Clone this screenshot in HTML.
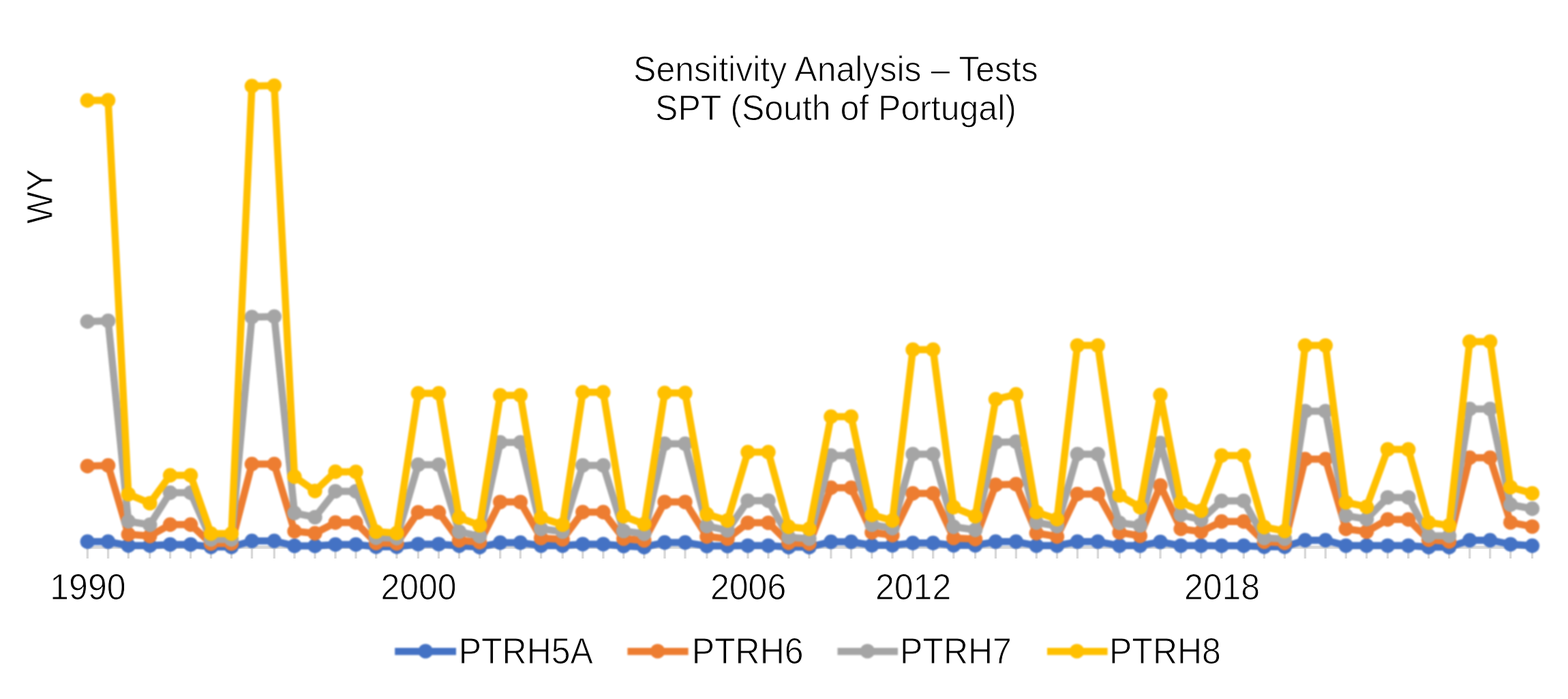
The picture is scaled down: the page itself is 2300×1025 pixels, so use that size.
<!DOCTYPE html>
<html lang="en">
<head>
<meta charset="utf-8">
<title>Sensitivity Analysis – Tests SPT (South of Portugal)</title>
<style>
html,body{margin:0;padding:0;background:#fff;}
body{width:2300px;height:1025px;overflow:hidden;}
svg{display:block;}
svg text{font-family:"Liberation Sans",Arial,Helvetica,sans-serif;fill:#000;stroke:#fff;stroke-width:0.9px;paint-order:fill stroke;}
</style>
</head>
<body>
<svg width="2300" height="1025" viewBox="0 0 2300 1025">
<rect width="2300" height="1025" fill="#fff"/>
<g stroke="#D9D9D9" stroke-width="3.4" style="filter:blur(0.4px)">
<line x1="126.60000000000001" y1="802.5" x2="2249.2" y2="802.5" stroke-width="4.4"/>
<line x1="128.3" y1="802.5" x2="128.3" y2="819"/>
<line x1="158.6" y1="802.5" x2="158.6" y2="819"/>
<line x1="188.3" y1="802.5" x2="188.3" y2="819"/>
<line x1="219.8" y1="802.5" x2="219.8" y2="819"/>
<line x1="249.6" y1="802.5" x2="249.6" y2="819"/>
<line x1="279.6" y1="802.5" x2="279.6" y2="819"/>
<line x1="309.5" y1="802.5" x2="309.5" y2="819"/>
<line x1="339.5" y1="802.5" x2="339.5" y2="819"/>
<line x1="369.5" y1="802.5" x2="369.5" y2="819"/>
<line x1="402.3" y1="802.5" x2="402.3" y2="819"/>
<line x1="432.0" y1="802.5" x2="432.0" y2="819"/>
<line x1="462.0" y1="802.5" x2="462.0" y2="819"/>
<line x1="492.0" y1="802.5" x2="492.0" y2="819"/>
<line x1="522.0" y1="802.5" x2="522.0" y2="819"/>
<line x1="551.7" y1="802.5" x2="551.7" y2="819"/>
<line x1="581.9" y1="802.5" x2="581.9" y2="819"/>
<line x1="613.4" y1="802.5" x2="613.4" y2="819"/>
<line x1="643.5" y1="802.5" x2="643.5" y2="819"/>
<line x1="673.5" y1="802.5" x2="673.5" y2="819"/>
<line x1="703.6" y1="802.5" x2="703.6" y2="819"/>
<line x1="733.7" y1="802.5" x2="733.7" y2="819"/>
<line x1="763.3" y1="802.5" x2="763.3" y2="819"/>
<line x1="793.6" y1="802.5" x2="793.6" y2="819"/>
<line x1="825.2" y1="802.5" x2="825.2" y2="819"/>
<line x1="854.8" y1="802.5" x2="854.8" y2="819"/>
<line x1="884.9" y1="802.5" x2="884.9" y2="819"/>
<line x1="914.7" y1="802.5" x2="914.7" y2="819"/>
<line x1="944.9" y1="802.5" x2="944.9" y2="819"/>
<line x1="975.0" y1="802.5" x2="975.0" y2="819"/>
<line x1="1005.0" y1="802.5" x2="1005.0" y2="819"/>
<line x1="1036.9" y1="802.5" x2="1036.9" y2="819"/>
<line x1="1067.1" y1="802.5" x2="1067.1" y2="819"/>
<line x1="1097.0" y1="802.5" x2="1097.0" y2="819"/>
<line x1="1127.0" y1="802.5" x2="1127.0" y2="819"/>
<line x1="1156.8" y1="802.5" x2="1156.8" y2="819"/>
<line x1="1187.0" y1="802.5" x2="1187.0" y2="819"/>
<line x1="1218.9" y1="802.5" x2="1218.9" y2="819"/>
<line x1="1248.5" y1="802.5" x2="1248.5" y2="819"/>
<line x1="1278.9" y1="802.5" x2="1278.9" y2="819"/>
<line x1="1309.0" y1="802.5" x2="1309.0" y2="819"/>
<line x1="1339.0" y1="802.5" x2="1339.0" y2="819"/>
<line x1="1368.7" y1="802.5" x2="1368.7" y2="819"/>
<line x1="1398.8" y1="802.5" x2="1398.8" y2="819"/>
<line x1="1430.6" y1="802.5" x2="1430.6" y2="819"/>
<line x1="1460.5" y1="802.5" x2="1460.5" y2="819"/>
<line x1="1490.4" y1="802.5" x2="1490.4" y2="819"/>
<line x1="1520.3" y1="802.5" x2="1520.3" y2="819"/>
<line x1="1550.5" y1="802.5" x2="1550.5" y2="819"/>
<line x1="1580.4" y1="802.5" x2="1580.4" y2="819"/>
<line x1="1610.4" y1="802.5" x2="1610.4" y2="819"/>
<line x1="1642.1" y1="802.5" x2="1642.1" y2="819"/>
<line x1="1672.3" y1="802.5" x2="1672.3" y2="819"/>
<line x1="1702.0" y1="802.5" x2="1702.0" y2="819"/>
<line x1="1732.1" y1="802.5" x2="1732.1" y2="819"/>
<line x1="1761.8" y1="802.5" x2="1761.8" y2="819"/>
<line x1="1791.9" y1="802.5" x2="1791.9" y2="819"/>
<line x1="1824.3" y1="802.5" x2="1824.3" y2="819"/>
<line x1="1854.4" y1="802.5" x2="1854.4" y2="819"/>
<line x1="1884.4" y1="802.5" x2="1884.4" y2="819"/>
<line x1="1914.4" y1="802.5" x2="1914.4" y2="819"/>
<line x1="1944.3" y1="802.5" x2="1944.3" y2="819"/>
<line x1="1974.3" y1="802.5" x2="1974.3" y2="819"/>
<line x1="2004.6" y1="802.5" x2="2004.6" y2="819"/>
<line x1="2035.5" y1="802.5" x2="2035.5" y2="819"/>
<line x1="2065.8" y1="802.5" x2="2065.8" y2="819"/>
<line x1="2095.6" y1="802.5" x2="2095.6" y2="819"/>
<line x1="2125.7" y1="802.5" x2="2125.7" y2="819"/>
<line x1="2155.8" y1="802.5" x2="2155.8" y2="819"/>
<line x1="2185.7" y1="802.5" x2="2185.7" y2="819"/>
<line x1="2215.7" y1="802.5" x2="2215.7" y2="819"/>
<line x1="2247.5" y1="802.5" x2="2247.5" y2="819"/>
</g>
<g style="filter:blur(1.0px)">
<polyline points="128.3,794.3 158.6,794.3 188.3,800.0 219.8,800.0 249.6,798.4 279.6,798.4 309.5,802.0 339.5,802.0 369.5,793.3 402.3,793.3 432.0,800.4 462.0,800.4 492.0,798.4 522.0,798.4 551.7,801.8 581.9,801.8 613.4,797.9 643.5,797.9 673.5,800.3 703.6,802.2 733.7,795.8 763.3,795.8 793.6,800.1 825.2,800.1 854.8,797.9 884.9,797.9 914.7,800.6 944.9,802.2 975.0,795.5 1005.0,795.5 1036.9,800.6 1067.1,800.6 1097.0,800.1 1127.0,800.1 1156.8,802.2 1187.0,802.2 1218.9,794.5 1248.5,794.5 1278.9,799.6 1309.0,799.6 1339.0,796.3 1368.7,796.3 1398.8,799.6 1430.6,799.6 1460.5,794.3 1490.4,794.3 1520.3,800.1 1550.5,800.1 1580.4,794.3 1610.4,794.3 1642.1,800.1 1672.3,800.1 1702.0,794.6 1732.1,800.1 1761.8,800.1 1791.9,800.3 1824.3,800.3 1854.4,801.7 1884.4,801.7 1914.4,792.2 1944.3,792.2 1974.3,800.1 2004.6,800.1 2035.5,800.1 2065.8,800.1 2095.6,802.2 2125.7,802.2 2155.8,792.2 2185.7,792.2 2215.7,798.1 2247.5,800.3" fill="none" stroke="#4472C4" stroke-width="10.5" stroke-linejoin="round" stroke-linecap="round"/>
<circle cx="128.3" cy="794.3" r="10.7" fill="#4472C4"/><circle cx="158.6" cy="794.3" r="10.7" fill="#4472C4"/><circle cx="188.3" cy="800.0" r="10.7" fill="#4472C4"/><circle cx="219.8" cy="800.0" r="10.7" fill="#4472C4"/><circle cx="249.6" cy="798.4" r="10.7" fill="#4472C4"/><circle cx="279.6" cy="798.4" r="10.7" fill="#4472C4"/><circle cx="309.5" cy="802.0" r="10.7" fill="#4472C4"/><circle cx="339.5" cy="802.0" r="10.7" fill="#4472C4"/><circle cx="369.5" cy="793.3" r="10.7" fill="#4472C4"/><circle cx="402.3" cy="793.3" r="10.7" fill="#4472C4"/><circle cx="432.0" cy="800.4" r="10.7" fill="#4472C4"/><circle cx="462.0" cy="800.4" r="10.7" fill="#4472C4"/><circle cx="492.0" cy="798.4" r="10.7" fill="#4472C4"/><circle cx="522.0" cy="798.4" r="10.7" fill="#4472C4"/><circle cx="551.7" cy="801.8" r="10.7" fill="#4472C4"/><circle cx="581.9" cy="801.8" r="10.7" fill="#4472C4"/><circle cx="613.4" cy="797.9" r="10.7" fill="#4472C4"/><circle cx="643.5" cy="797.9" r="10.7" fill="#4472C4"/><circle cx="673.5" cy="800.3" r="10.7" fill="#4472C4"/><circle cx="703.6" cy="802.2" r="10.7" fill="#4472C4"/><circle cx="733.7" cy="795.8" r="10.7" fill="#4472C4"/><circle cx="763.3" cy="795.8" r="10.7" fill="#4472C4"/><circle cx="793.6" cy="800.1" r="10.7" fill="#4472C4"/><circle cx="825.2" cy="800.1" r="10.7" fill="#4472C4"/><circle cx="854.8" cy="797.9" r="10.7" fill="#4472C4"/><circle cx="884.9" cy="797.9" r="10.7" fill="#4472C4"/><circle cx="914.7" cy="800.6" r="10.7" fill="#4472C4"/><circle cx="944.9" cy="802.2" r="10.7" fill="#4472C4"/><circle cx="975.0" cy="795.5" r="10.7" fill="#4472C4"/><circle cx="1005.0" cy="795.5" r="10.7" fill="#4472C4"/><circle cx="1036.9" cy="800.6" r="10.7" fill="#4472C4"/><circle cx="1067.1" cy="800.6" r="10.7" fill="#4472C4"/><circle cx="1097.0" cy="800.1" r="10.7" fill="#4472C4"/><circle cx="1127.0" cy="800.1" r="10.7" fill="#4472C4"/><circle cx="1156.8" cy="802.2" r="10.7" fill="#4472C4"/><circle cx="1187.0" cy="802.2" r="10.7" fill="#4472C4"/><circle cx="1218.9" cy="794.5" r="10.7" fill="#4472C4"/><circle cx="1248.5" cy="794.5" r="10.7" fill="#4472C4"/><circle cx="1278.9" cy="799.6" r="10.7" fill="#4472C4"/><circle cx="1309.0" cy="799.6" r="10.7" fill="#4472C4"/><circle cx="1339.0" cy="796.3" r="10.7" fill="#4472C4"/><circle cx="1368.7" cy="796.3" r="10.7" fill="#4472C4"/><circle cx="1398.8" cy="799.6" r="10.7" fill="#4472C4"/><circle cx="1430.6" cy="799.6" r="10.7" fill="#4472C4"/><circle cx="1460.5" cy="794.3" r="10.7" fill="#4472C4"/><circle cx="1490.4" cy="794.3" r="10.7" fill="#4472C4"/><circle cx="1520.3" cy="800.1" r="10.7" fill="#4472C4"/><circle cx="1550.5" cy="800.1" r="10.7" fill="#4472C4"/><circle cx="1580.4" cy="794.3" r="10.7" fill="#4472C4"/><circle cx="1610.4" cy="794.3" r="10.7" fill="#4472C4"/><circle cx="1642.1" cy="800.1" r="10.7" fill="#4472C4"/><circle cx="1672.3" cy="800.1" r="10.7" fill="#4472C4"/><circle cx="1702.0" cy="794.6" r="10.7" fill="#4472C4"/><circle cx="1732.1" cy="800.1" r="10.7" fill="#4472C4"/><circle cx="1761.8" cy="800.1" r="10.7" fill="#4472C4"/><circle cx="1791.9" cy="800.3" r="10.7" fill="#4472C4"/><circle cx="1824.3" cy="800.3" r="10.7" fill="#4472C4"/><circle cx="1854.4" cy="801.7" r="10.7" fill="#4472C4"/><circle cx="1884.4" cy="801.7" r="10.7" fill="#4472C4"/><circle cx="1914.4" cy="792.2" r="10.7" fill="#4472C4"/><circle cx="1944.3" cy="792.2" r="10.7" fill="#4472C4"/><circle cx="1974.3" cy="800.1" r="10.7" fill="#4472C4"/><circle cx="2004.6" cy="800.1" r="10.7" fill="#4472C4"/><circle cx="2035.5" cy="800.1" r="10.7" fill="#4472C4"/><circle cx="2065.8" cy="800.1" r="10.7" fill="#4472C4"/><circle cx="2095.6" cy="802.2" r="10.7" fill="#4472C4"/><circle cx="2125.7" cy="802.2" r="10.7" fill="#4472C4"/><circle cx="2155.8" cy="792.2" r="10.7" fill="#4472C4"/><circle cx="2185.7" cy="792.2" r="10.7" fill="#4472C4"/><circle cx="2215.7" cy="798.1" r="10.7" fill="#4472C4"/><circle cx="2247.5" cy="800.3" r="10.7" fill="#4472C4"/>

<polyline points="128.3,683.5 158.6,682.5 188.3,783.5 219.8,786.0 249.6,769.2 279.6,769.2 309.5,797.0 339.5,797.0 369.5,680.5 402.3,680.5 432.0,779.0 462.0,782.0 492.0,766.3 522.0,766.3 551.7,796.3 581.9,796.8 613.4,751.2 643.5,751.2 673.5,792.5 703.6,795.0 733.7,736.1 763.3,736.1 793.6,788.9 825.2,790.9 854.8,751.0 884.9,751.0 914.7,789.9 944.9,792.4 975.0,736.1 1005.0,736.1 1036.9,786.8 1067.1,789.9 1097.0,766.6 1127.0,766.6 1156.8,796.0 1187.0,797.0 1218.9,715.3 1248.5,715.3 1278.9,780.7 1309.0,784.8 1339.0,723.5 1368.7,723.5 1398.8,788.9 1430.6,790.5 1460.5,711.0 1490.4,710.0 1520.3,781.7 1550.5,786.8 1580.4,724.5 1610.4,724.5 1642.1,780.7 1672.3,785.8 1702.0,712.0 1732.1,775.5 1761.8,779.6 1791.9,764.8 1824.3,764.8 1854.4,794.5 1884.4,796.0 1914.4,673.3 1944.3,673.3 1974.3,775.5 2004.6,779.6 2035.5,761.7 2065.8,761.7 2095.6,791.5 2125.7,794.0 2155.8,671.3 2185.7,671.3 2215.7,766.1 2247.5,772.1" fill="none" stroke="#ED7D31" stroke-width="10.5" stroke-linejoin="round" stroke-linecap="round"/>
<circle cx="128.3" cy="683.5" r="10.7" fill="#ED7D31"/><circle cx="158.6" cy="682.5" r="10.7" fill="#ED7D31"/><circle cx="188.3" cy="783.5" r="10.7" fill="#ED7D31"/><circle cx="219.8" cy="786.0" r="10.7" fill="#ED7D31"/><circle cx="249.6" cy="769.2" r="10.7" fill="#ED7D31"/><circle cx="279.6" cy="769.2" r="10.7" fill="#ED7D31"/><circle cx="309.5" cy="797.0" r="10.7" fill="#ED7D31"/><circle cx="339.5" cy="797.0" r="10.7" fill="#ED7D31"/><circle cx="369.5" cy="680.5" r="10.7" fill="#ED7D31"/><circle cx="402.3" cy="680.5" r="10.7" fill="#ED7D31"/><circle cx="432.0" cy="779.0" r="10.7" fill="#ED7D31"/><circle cx="462.0" cy="782.0" r="10.7" fill="#ED7D31"/><circle cx="492.0" cy="766.3" r="10.7" fill="#ED7D31"/><circle cx="522.0" cy="766.3" r="10.7" fill="#ED7D31"/><circle cx="551.7" cy="796.3" r="10.7" fill="#ED7D31"/><circle cx="581.9" cy="796.8" r="10.7" fill="#ED7D31"/><circle cx="613.4" cy="751.2" r="10.7" fill="#ED7D31"/><circle cx="643.5" cy="751.2" r="10.7" fill="#ED7D31"/><circle cx="673.5" cy="792.5" r="10.7" fill="#ED7D31"/><circle cx="703.6" cy="795.0" r="10.7" fill="#ED7D31"/><circle cx="733.7" cy="736.1" r="10.7" fill="#ED7D31"/><circle cx="763.3" cy="736.1" r="10.7" fill="#ED7D31"/><circle cx="793.6" cy="788.9" r="10.7" fill="#ED7D31"/><circle cx="825.2" cy="790.9" r="10.7" fill="#ED7D31"/><circle cx="854.8" cy="751.0" r="10.7" fill="#ED7D31"/><circle cx="884.9" cy="751.0" r="10.7" fill="#ED7D31"/><circle cx="914.7" cy="789.9" r="10.7" fill="#ED7D31"/><circle cx="944.9" cy="792.4" r="10.7" fill="#ED7D31"/><circle cx="975.0" cy="736.1" r="10.7" fill="#ED7D31"/><circle cx="1005.0" cy="736.1" r="10.7" fill="#ED7D31"/><circle cx="1036.9" cy="786.8" r="10.7" fill="#ED7D31"/><circle cx="1067.1" cy="789.9" r="10.7" fill="#ED7D31"/><circle cx="1097.0" cy="766.6" r="10.7" fill="#ED7D31"/><circle cx="1127.0" cy="766.6" r="10.7" fill="#ED7D31"/><circle cx="1156.8" cy="796.0" r="10.7" fill="#ED7D31"/><circle cx="1187.0" cy="797.0" r="10.7" fill="#ED7D31"/><circle cx="1218.9" cy="715.3" r="10.7" fill="#ED7D31"/><circle cx="1248.5" cy="715.3" r="10.7" fill="#ED7D31"/><circle cx="1278.9" cy="780.7" r="10.7" fill="#ED7D31"/><circle cx="1309.0" cy="784.8" r="10.7" fill="#ED7D31"/><circle cx="1339.0" cy="723.5" r="10.7" fill="#ED7D31"/><circle cx="1368.7" cy="723.5" r="10.7" fill="#ED7D31"/><circle cx="1398.8" cy="788.9" r="10.7" fill="#ED7D31"/><circle cx="1430.6" cy="790.5" r="10.7" fill="#ED7D31"/><circle cx="1460.5" cy="711.0" r="10.7" fill="#ED7D31"/><circle cx="1490.4" cy="710.0" r="10.7" fill="#ED7D31"/><circle cx="1520.3" cy="781.7" r="10.7" fill="#ED7D31"/><circle cx="1550.5" cy="786.8" r="10.7" fill="#ED7D31"/><circle cx="1580.4" cy="724.5" r="10.7" fill="#ED7D31"/><circle cx="1610.4" cy="724.5" r="10.7" fill="#ED7D31"/><circle cx="1642.1" cy="780.7" r="10.7" fill="#ED7D31"/><circle cx="1672.3" cy="785.8" r="10.7" fill="#ED7D31"/><circle cx="1702.0" cy="712.0" r="10.7" fill="#ED7D31"/><circle cx="1732.1" cy="775.5" r="10.7" fill="#ED7D31"/><circle cx="1761.8" cy="779.6" r="10.7" fill="#ED7D31"/><circle cx="1791.9" cy="764.8" r="10.7" fill="#ED7D31"/><circle cx="1824.3" cy="764.8" r="10.7" fill="#ED7D31"/><circle cx="1854.4" cy="794.5" r="10.7" fill="#ED7D31"/><circle cx="1884.4" cy="796.0" r="10.7" fill="#ED7D31"/><circle cx="1914.4" cy="673.3" r="10.7" fill="#ED7D31"/><circle cx="1944.3" cy="673.3" r="10.7" fill="#ED7D31"/><circle cx="1974.3" cy="775.5" r="10.7" fill="#ED7D31"/><circle cx="2004.6" cy="779.6" r="10.7" fill="#ED7D31"/><circle cx="2035.5" cy="761.7" r="10.7" fill="#ED7D31"/><circle cx="2065.8" cy="761.7" r="10.7" fill="#ED7D31"/><circle cx="2095.6" cy="791.5" r="10.7" fill="#ED7D31"/><circle cx="2125.7" cy="794.0" r="10.7" fill="#ED7D31"/><circle cx="2155.8" cy="671.3" r="10.7" fill="#ED7D31"/><circle cx="2185.7" cy="671.3" r="10.7" fill="#ED7D31"/><circle cx="2215.7" cy="766.1" r="10.7" fill="#ED7D31"/><circle cx="2247.5" cy="772.1" r="10.7" fill="#ED7D31"/>

<polyline points="128.3,471.5 158.6,470.5 188.3,764.5 219.8,769.5 249.6,722.5 279.6,722.5 309.5,791.0 339.5,791.0 369.5,465.0 402.3,464.3 432.0,752.3 462.0,758.4 492.0,720.4 522.0,720.4 551.7,788.5 581.9,789.0 613.4,681.5 643.5,681.5 673.5,779.6 703.6,786.3 733.7,648.7 763.3,648.7 793.6,775.5 825.2,779.6 854.8,682.5 884.9,682.5 914.7,778.6 944.9,782.7 975.0,650.7 1005.0,650.7 1036.9,771.4 1067.1,777.6 1097.0,734.3 1127.0,734.3 1156.8,787.8 1187.0,789.9 1218.9,668.0 1248.5,668.0 1278.9,769.4 1309.0,774.5 1339.0,666.0 1368.7,666.0 1398.8,772.5 1430.6,777.0 1460.5,648.7 1490.4,647.7 1520.3,766.3 1550.5,771.4 1580.4,666.0 1610.4,666.0 1642.1,766.8 1672.3,770.4 1702.0,649.7 1732.1,755.0 1761.8,762.2 1791.9,734.5 1824.3,734.5 1854.4,788.9 1884.4,789.9 1914.4,602.9 1944.3,602.9 1974.3,756.1 2004.6,761.2 2035.5,729.4 2065.8,729.4 2095.6,785.5 2125.7,785.8 2155.8,599.8 2185.7,599.8 2215.7,740.0 2247.5,746.0" fill="none" stroke="#A5A5A5" stroke-width="10.5" stroke-linejoin="round" stroke-linecap="round"/>
<circle cx="128.3" cy="471.5" r="10.7" fill="#A5A5A5"/><circle cx="158.6" cy="470.5" r="10.7" fill="#A5A5A5"/><circle cx="188.3" cy="764.5" r="10.7" fill="#A5A5A5"/><circle cx="219.8" cy="769.5" r="10.7" fill="#A5A5A5"/><circle cx="249.6" cy="722.5" r="10.7" fill="#A5A5A5"/><circle cx="279.6" cy="722.5" r="10.7" fill="#A5A5A5"/><circle cx="309.5" cy="791.0" r="10.7" fill="#A5A5A5"/><circle cx="339.5" cy="791.0" r="10.7" fill="#A5A5A5"/><circle cx="369.5" cy="465.0" r="10.7" fill="#A5A5A5"/><circle cx="402.3" cy="464.3" r="10.7" fill="#A5A5A5"/><circle cx="432.0" cy="752.3" r="10.7" fill="#A5A5A5"/><circle cx="462.0" cy="758.4" r="10.7" fill="#A5A5A5"/><circle cx="492.0" cy="720.4" r="10.7" fill="#A5A5A5"/><circle cx="522.0" cy="720.4" r="10.7" fill="#A5A5A5"/><circle cx="551.7" cy="788.5" r="10.7" fill="#A5A5A5"/><circle cx="581.9" cy="789.0" r="10.7" fill="#A5A5A5"/><circle cx="613.4" cy="681.5" r="10.7" fill="#A5A5A5"/><circle cx="643.5" cy="681.5" r="10.7" fill="#A5A5A5"/><circle cx="673.5" cy="779.6" r="10.7" fill="#A5A5A5"/><circle cx="703.6" cy="786.3" r="10.7" fill="#A5A5A5"/><circle cx="733.7" cy="648.7" r="10.7" fill="#A5A5A5"/><circle cx="763.3" cy="648.7" r="10.7" fill="#A5A5A5"/><circle cx="793.6" cy="775.5" r="10.7" fill="#A5A5A5"/><circle cx="825.2" cy="779.6" r="10.7" fill="#A5A5A5"/><circle cx="854.8" cy="682.5" r="10.7" fill="#A5A5A5"/><circle cx="884.9" cy="682.5" r="10.7" fill="#A5A5A5"/><circle cx="914.7" cy="778.6" r="10.7" fill="#A5A5A5"/><circle cx="944.9" cy="782.7" r="10.7" fill="#A5A5A5"/><circle cx="975.0" cy="650.7" r="10.7" fill="#A5A5A5"/><circle cx="1005.0" cy="650.7" r="10.7" fill="#A5A5A5"/><circle cx="1036.9" cy="771.4" r="10.7" fill="#A5A5A5"/><circle cx="1067.1" cy="777.6" r="10.7" fill="#A5A5A5"/><circle cx="1097.0" cy="734.3" r="10.7" fill="#A5A5A5"/><circle cx="1127.0" cy="734.3" r="10.7" fill="#A5A5A5"/><circle cx="1156.8" cy="787.8" r="10.7" fill="#A5A5A5"/><circle cx="1187.0" cy="789.9" r="10.7" fill="#A5A5A5"/><circle cx="1218.9" cy="668.0" r="10.7" fill="#A5A5A5"/><circle cx="1248.5" cy="668.0" r="10.7" fill="#A5A5A5"/><circle cx="1278.9" cy="769.4" r="10.7" fill="#A5A5A5"/><circle cx="1309.0" cy="774.5" r="10.7" fill="#A5A5A5"/><circle cx="1339.0" cy="666.0" r="10.7" fill="#A5A5A5"/><circle cx="1368.7" cy="666.0" r="10.7" fill="#A5A5A5"/><circle cx="1398.8" cy="772.5" r="10.7" fill="#A5A5A5"/><circle cx="1430.6" cy="777.0" r="10.7" fill="#A5A5A5"/><circle cx="1460.5" cy="648.7" r="10.7" fill="#A5A5A5"/><circle cx="1490.4" cy="647.7" r="10.7" fill="#A5A5A5"/><circle cx="1520.3" cy="766.3" r="10.7" fill="#A5A5A5"/><circle cx="1550.5" cy="771.4" r="10.7" fill="#A5A5A5"/><circle cx="1580.4" cy="666.0" r="10.7" fill="#A5A5A5"/><circle cx="1610.4" cy="666.0" r="10.7" fill="#A5A5A5"/><circle cx="1642.1" cy="766.8" r="10.7" fill="#A5A5A5"/><circle cx="1672.3" cy="770.4" r="10.7" fill="#A5A5A5"/><circle cx="1702.0" cy="649.7" r="10.7" fill="#A5A5A5"/><circle cx="1732.1" cy="755.0" r="10.7" fill="#A5A5A5"/><circle cx="1761.8" cy="762.2" r="10.7" fill="#A5A5A5"/><circle cx="1791.9" cy="734.5" r="10.7" fill="#A5A5A5"/><circle cx="1824.3" cy="734.5" r="10.7" fill="#A5A5A5"/><circle cx="1854.4" cy="788.9" r="10.7" fill="#A5A5A5"/><circle cx="1884.4" cy="789.9" r="10.7" fill="#A5A5A5"/><circle cx="1914.4" cy="602.9" r="10.7" fill="#A5A5A5"/><circle cx="1944.3" cy="602.9" r="10.7" fill="#A5A5A5"/><circle cx="1974.3" cy="756.1" r="10.7" fill="#A5A5A5"/><circle cx="2004.6" cy="761.2" r="10.7" fill="#A5A5A5"/><circle cx="2035.5" cy="729.4" r="10.7" fill="#A5A5A5"/><circle cx="2065.8" cy="729.4" r="10.7" fill="#A5A5A5"/><circle cx="2095.6" cy="785.5" r="10.7" fill="#A5A5A5"/><circle cx="2125.7" cy="785.8" r="10.7" fill="#A5A5A5"/><circle cx="2155.8" cy="599.8" r="10.7" fill="#A5A5A5"/><circle cx="2185.7" cy="599.8" r="10.7" fill="#A5A5A5"/><circle cx="2215.7" cy="740.0" r="10.7" fill="#A5A5A5"/><circle cx="2247.5" cy="746.0" r="10.7" fill="#A5A5A5"/>

<polyline points="128.3,147.3 158.6,147.0 188.3,724.6 219.8,737.9 249.6,697.0 279.6,697.0 309.5,782.5 339.5,782.5 369.5,126.2 402.3,125.6 432.0,699.0 462.0,720.0 492.0,691.7 522.0,692.0 551.7,779.6 581.9,781.8 613.4,576.7 643.5,576.7 673.5,759.0 703.6,770.4 733.7,579.8 763.3,579.8 793.6,759.0 825.2,769.4 854.8,575.3 884.9,575.3 914.7,757.0 944.9,768.4 975.0,576.3 1005.0,576.3 1036.9,754.0 1067.1,763.2 1097.0,663.0 1127.0,663.0 1156.8,772.5 1187.0,775.5 1218.9,611.0 1248.5,611.0 1278.9,755.0 1309.0,763.2 1339.0,512.7 1368.7,512.7 1398.8,743.8 1430.6,757.0 1460.5,585.5 1490.4,578.3 1520.3,750.9 1550.5,761.2 1580.4,506.6 1610.4,506.6 1642.1,726.4 1672.3,743.8 1702.0,579.3 1732.1,736.6 1761.8,748.9 1791.9,668.0 1824.3,668.0 1854.4,773.0 1884.4,778.6 1914.4,506.6 1944.3,506.6 1974.3,736.6 2004.6,743.2 2035.5,659.0 2065.8,659.0 2095.6,766.3 2125.7,770.4 2155.8,501.0 2185.7,501.0 2215.7,714.4 2247.5,723.4" fill="none" stroke="#FFC000" stroke-width="10.5" stroke-linejoin="round" stroke-linecap="round"/>
<circle cx="128.3" cy="147.3" r="10.7" fill="#FFC000"/><circle cx="158.6" cy="147.0" r="10.7" fill="#FFC000"/><circle cx="188.3" cy="724.6" r="10.7" fill="#FFC000"/><circle cx="219.8" cy="737.9" r="10.7" fill="#FFC000"/><circle cx="249.6" cy="697.0" r="10.7" fill="#FFC000"/><circle cx="279.6" cy="697.0" r="10.7" fill="#FFC000"/><circle cx="309.5" cy="782.5" r="10.7" fill="#FFC000"/><circle cx="339.5" cy="782.5" r="10.7" fill="#FFC000"/><circle cx="369.5" cy="126.2" r="10.7" fill="#FFC000"/><circle cx="402.3" cy="125.6" r="10.7" fill="#FFC000"/><circle cx="432.0" cy="699.0" r="10.7" fill="#FFC000"/><circle cx="462.0" cy="720.0" r="10.7" fill="#FFC000"/><circle cx="492.0" cy="691.7" r="10.7" fill="#FFC000"/><circle cx="522.0" cy="692.0" r="10.7" fill="#FFC000"/><circle cx="551.7" cy="779.6" r="10.7" fill="#FFC000"/><circle cx="581.9" cy="781.8" r="10.7" fill="#FFC000"/><circle cx="613.4" cy="576.7" r="10.7" fill="#FFC000"/><circle cx="643.5" cy="576.7" r="10.7" fill="#FFC000"/><circle cx="673.5" cy="759.0" r="10.7" fill="#FFC000"/><circle cx="703.6" cy="770.4" r="10.7" fill="#FFC000"/><circle cx="733.7" cy="579.8" r="10.7" fill="#FFC000"/><circle cx="763.3" cy="579.8" r="10.7" fill="#FFC000"/><circle cx="793.6" cy="759.0" r="10.7" fill="#FFC000"/><circle cx="825.2" cy="769.4" r="10.7" fill="#FFC000"/><circle cx="854.8" cy="575.3" r="10.7" fill="#FFC000"/><circle cx="884.9" cy="575.3" r="10.7" fill="#FFC000"/><circle cx="914.7" cy="757.0" r="10.7" fill="#FFC000"/><circle cx="944.9" cy="768.4" r="10.7" fill="#FFC000"/><circle cx="975.0" cy="576.3" r="10.7" fill="#FFC000"/><circle cx="1005.0" cy="576.3" r="10.7" fill="#FFC000"/><circle cx="1036.9" cy="754.0" r="10.7" fill="#FFC000"/><circle cx="1067.1" cy="763.2" r="10.7" fill="#FFC000"/><circle cx="1097.0" cy="663.0" r="10.7" fill="#FFC000"/><circle cx="1127.0" cy="663.0" r="10.7" fill="#FFC000"/><circle cx="1156.8" cy="772.5" r="10.7" fill="#FFC000"/><circle cx="1187.0" cy="775.5" r="10.7" fill="#FFC000"/><circle cx="1218.9" cy="611.0" r="10.7" fill="#FFC000"/><circle cx="1248.5" cy="611.0" r="10.7" fill="#FFC000"/><circle cx="1278.9" cy="755.0" r="10.7" fill="#FFC000"/><circle cx="1309.0" cy="763.2" r="10.7" fill="#FFC000"/><circle cx="1339.0" cy="512.7" r="10.7" fill="#FFC000"/><circle cx="1368.7" cy="512.7" r="10.7" fill="#FFC000"/><circle cx="1398.8" cy="743.8" r="10.7" fill="#FFC000"/><circle cx="1430.6" cy="757.0" r="10.7" fill="#FFC000"/><circle cx="1460.5" cy="585.5" r="10.7" fill="#FFC000"/><circle cx="1490.4" cy="578.3" r="10.7" fill="#FFC000"/><circle cx="1520.3" cy="750.9" r="10.7" fill="#FFC000"/><circle cx="1550.5" cy="761.2" r="10.7" fill="#FFC000"/><circle cx="1580.4" cy="506.6" r="10.7" fill="#FFC000"/><circle cx="1610.4" cy="506.6" r="10.7" fill="#FFC000"/><circle cx="1642.1" cy="726.4" r="10.7" fill="#FFC000"/><circle cx="1672.3" cy="743.8" r="10.7" fill="#FFC000"/><circle cx="1702.0" cy="579.3" r="10.7" fill="#FFC000"/><circle cx="1732.1" cy="736.6" r="10.7" fill="#FFC000"/><circle cx="1761.8" cy="748.9" r="10.7" fill="#FFC000"/><circle cx="1791.9" cy="668.0" r="10.7" fill="#FFC000"/><circle cx="1824.3" cy="668.0" r="10.7" fill="#FFC000"/><circle cx="1854.4" cy="773.0" r="10.7" fill="#FFC000"/><circle cx="1884.4" cy="778.6" r="10.7" fill="#FFC000"/><circle cx="1914.4" cy="506.6" r="10.7" fill="#FFC000"/><circle cx="1944.3" cy="506.6" r="10.7" fill="#FFC000"/><circle cx="1974.3" cy="736.6" r="10.7" fill="#FFC000"/><circle cx="2004.6" cy="743.2" r="10.7" fill="#FFC000"/><circle cx="2035.5" cy="659.0" r="10.7" fill="#FFC000"/><circle cx="2065.8" cy="659.0" r="10.7" fill="#FFC000"/><circle cx="2095.6" cy="766.3" r="10.7" fill="#FFC000"/><circle cx="2125.7" cy="770.4" r="10.7" fill="#FFC000"/><circle cx="2155.8" cy="501.0" r="10.7" fill="#FFC000"/><circle cx="2185.7" cy="501.0" r="10.7" fill="#FFC000"/><circle cx="2215.7" cy="714.4" r="10.7" fill="#FFC000"/><circle cx="2247.5" cy="723.4" r="10.7" fill="#FFC000"/>

<line x1="579.2" y1="955.3" x2="669.0" y2="955.3" stroke="#4472C4" stroke-width="10.5"/>
<circle cx="624.2" cy="954.9" r="10.7" fill="#4472C4"/>
<line x1="920.4" y1="955.3" x2="1009.6" y2="955.3" stroke="#ED7D31" stroke-width="10.5"/>
<circle cx="964.6" cy="954.9" r="10.7" fill="#ED7D31"/>
<line x1="1228.5" y1="955.3" x2="1317.0" y2="955.3" stroke="#A5A5A5" stroke-width="10.5"/>
<circle cx="1272.4" cy="954.9" r="10.7" fill="#A5A5A5"/>
<line x1="1536" y1="955.3" x2="1624.6" y2="955.3" stroke="#FFC000" stroke-width="10.5"/>
<circle cx="1579.6" cy="954.9" r="10.7" fill="#FFC000"/>
</g>
<g style="filter:blur(0.5px)">
<text transform="translate(672.7,973.0) scale(1,1.06)" font-size="50">PTRH5A</text>
<text transform="translate(1014.7,973.0) scale(1,1.06)" font-size="50">PTRH6</text>
<text transform="translate(1320.0,973.0) scale(1,1.06)" font-size="50">PTRH7</text>
<text transform="translate(1627.0,973.0) scale(1,1.06)" font-size="50">PTRH8</text>
<text transform="translate(1226.0,119.3) scale(1,1.02)" font-size="50" text-anchor="middle">Sensitivity Analysis – Tests</text>
<text transform="translate(1226.0,176.2) scale(1,1.02)" font-size="50" text-anchor="middle">SPT (South of Portugal)</text>
<text transform="translate(128.9,879.0) scale(1,1.06)" font-size="50" text-anchor="middle">1990</text>
<text transform="translate(614.0,879.0) scale(1,1.06)" font-size="50" text-anchor="middle">2000</text>
<text transform="translate(1097.6,879.0) scale(1,1.06)" font-size="50" text-anchor="middle">2006</text>
<text transform="translate(1339.6,879.0) scale(1,1.06)" font-size="50" text-anchor="middle">2012</text>
<text transform="translate(1792.5,879.0) scale(1,1.06)" font-size="50" text-anchor="middle">2018</text>
<text transform="translate(76.5,288.0) rotate(-90) scale(1,1.06)" font-size="50" text-anchor="middle">WY</text>
</g>
</svg>
</body>
</html>
